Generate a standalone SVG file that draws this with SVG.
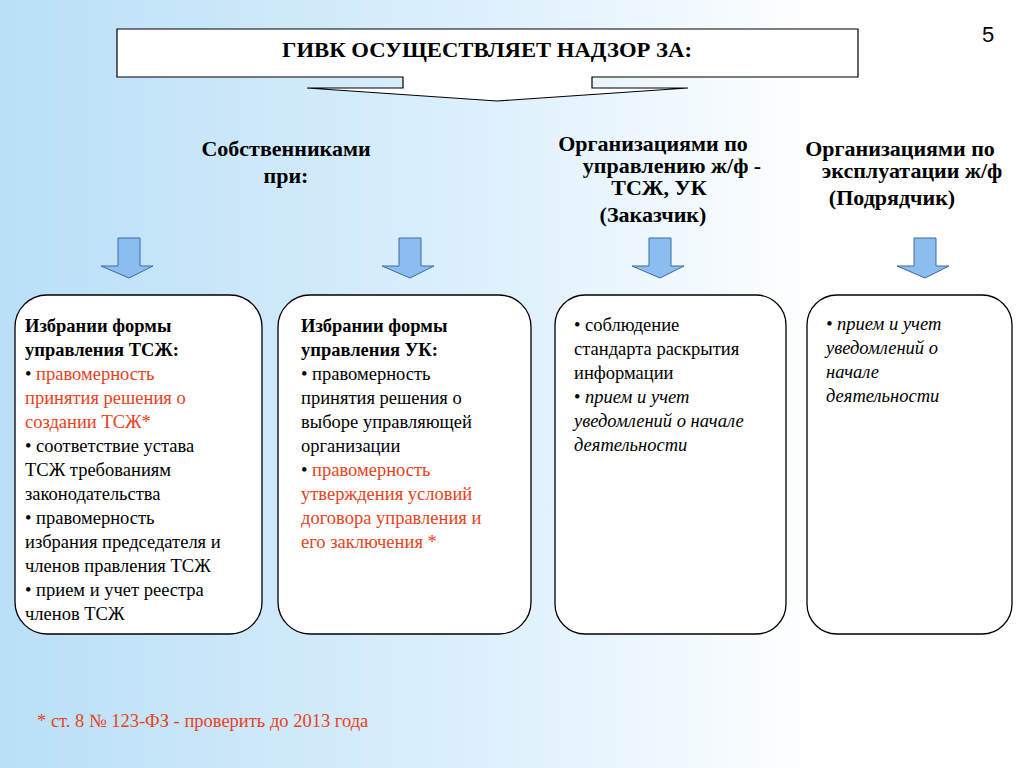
<svg xmlns="http://www.w3.org/2000/svg" width="1024" height="768" viewBox="0 0 1024 768" font-family="Liberation Serif, Times New Roman, serif">
<defs>
<linearGradient id="bg" x1="0" y1="0" x2="1" y2="0"><stop offset="0" stop-color="#b9dff7"/><stop offset="0.5" stop-color="#dff1fc"/><stop offset="0.8" stop-color="#ffffff"/></linearGradient>
<style>
.t{font-family:'Liberation Serif','Times New Roman',serif;font-size:18.5px;fill:#000}
.h{font-family:'Liberation Serif','Times New Roman',serif;font-size:22px;font-weight:bold;fill:#000}
.r{fill:#e8421c}
.box{fill:#fff;stroke:#000;stroke-width:1.3}
.ar{fill:#8cbdf0;stroke:#3a6aa0;stroke-width:1}
</style>
</defs>
<rect width="1024" height="768" fill="url(#bg)"/>
<text x="988" y="42" font-family="Liberation Sans,sans-serif" font-size="22" text-anchor="middle">5</text>
<g id="title">
<path d="M117,29 H858 V77 H592 V88 H688 L497,101 L307,88 H403 V77 H117 Z" fill="#fff" stroke="#000" stroke-width="1.2"/>
<text class="h" x="487" y="57" text-anchor="middle" font-size="20" textLength="410" lengthAdjust="spacingAndGlyphs">ГИВК ОСУЩЕСТВЛЯЕТ НАДЗОР ЗА:</text>
</g>
<g id="headers">
<text class="h" text-anchor="middle"><tspan x="286" y="156">Собственниками</tspan><tspan x="286" y="183">при:</tspan></text>
<text class="h" text-anchor="middle"><tspan x="653" y="151">Организациями по</tspan><tspan x="672" y="173">управлению ж/ф -</tspan><tspan x="659" y="195">ТСЖ, УК</tspan><tspan x="653" y="222">(Заказчик)</tspan></text>
<text class="h" text-anchor="middle"><tspan x="900" y="156">Организациями по</tspan><tspan x="912" y="178">эксплуатации ж/ф</tspan><tspan x="892" y="205">(Подрядчик)</tspan></text>
</g>
<g id="connectors">
<path class="ar" d="M118,238 H140 V266 H153 L129,278 L101,266 H118 Z"/>
<path class="ar" d="M399,238 H421 V266 H434 L410,278 L382,266 H399 Z"/>
<path class="ar" d="M649,238 H671 V266 H684 L660,278 L632,266 H649 Z"/>
<path class="ar" d="M914,238 H936 V266 H949 L925,278 L897,266 H914 Z"/>
</g>
<g id="box1">
<rect class="box" x="15" y="295" width="247" height="339" rx="32"/>
<text class="t"><tspan x="25" y="332" font-weight="bold">Избрании формы</tspan><tspan x="25" y="356" font-weight="bold">управления ТСЖ:</tspan><tspan x="25" y="380">•  <tspan class="r">правомерность</tspan></tspan><tspan x="25" y="404" class="r">принятия решения о</tspan><tspan x="25" y="428" class="r">создании ТСЖ*</tspan><tspan x="25" y="452">•   соответствие устава</tspan><tspan x="25" y="476">ТСЖ требованиям</tspan><tspan x="25" y="500">законодательства</tspan><tspan x="25" y="524">• правомерность</tspan><tspan x="25" y="548">избрания председателя и</tspan><tspan x="25" y="572">членов правления ТСЖ</tspan><tspan x="25" y="596">•  прием и учет реестра</tspan><tspan x="25" y="620">членов ТСЖ</tspan></text>
</g>
<g id="box2">
<rect class="box" x="278" y="295" width="253" height="339" rx="32"/>
<text class="t"><tspan x="301" y="332" font-weight="bold">Избрании формы</tspan><tspan x="301" y="356" font-weight="bold">управления УК:</tspan><tspan x="301" y="380">•  правомерность</tspan><tspan x="301" y="404">принятия решения о</tspan><tspan x="301" y="428">выборе управляющей</tspan><tspan x="301" y="452">организации</tspan><tspan x="301" y="476">•  <tspan class="r">правомерность</tspan></tspan><tspan x="301" y="500" class="r">утверждения условий</tspan><tspan x="301" y="524" class="r">договора управления и</tspan><tspan x="301" y="548" class="r">его заключения *</tspan></text>
</g>
<g id="box3">
<rect class="box" x="555" y="295" width="231" height="339" rx="30"/>
<text class="t"><tspan x="574" y="331">• соблюдение</tspan><tspan x="574" y="355">стандарта раскрытия</tspan><tspan x="574" y="379">информации</tspan><tspan x="574" y="403">•  <tspan font-style="italic">прием и учет</tspan></tspan><tspan x="574" y="427" font-style="italic">уведомлений о начале</tspan><tspan x="574" y="451" font-style="italic">деятельности</tspan></text>
</g>
<g id="box4">
<rect class="box" x="807" y="295" width="205" height="339" rx="30"/>
<text class="t" font-style="italic"><tspan x="826" y="330">• прием и учет</tspan><tspan x="826" y="354">уведомлений о</tspan><tspan x="826" y="378">начале</tspan><tspan x="826" y="402">деятельности</tspan></text>
</g>
<text class="t r" x="37" y="727">* ст. 8 № 123-ФЗ - проверить до 2013 года</text>
</svg>
